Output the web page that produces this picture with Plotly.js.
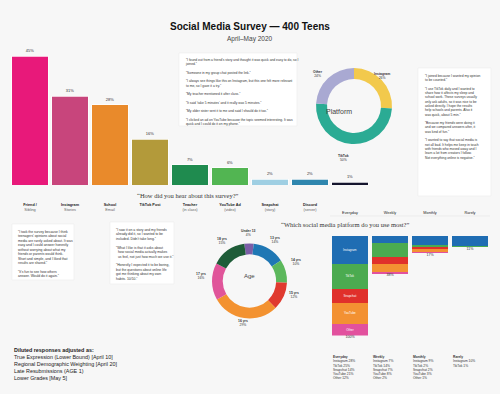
<!DOCTYPE html>
<html><head><meta charset="utf-8">
<script src="https://cdn.plot.ly/plotly-3.0.1.min.js"></script>
<style>html,body{margin:0;padding:0;background:#f7f7f7}#chart{width:500px;height:394px}</style>
</head><body><div id="chart"></div><script>
// ---------- DATA ----------
const sourceLine1 = ["Friend /", "Instagram", "School", "TikTok Post", "Teacher", "YouTube Ad", "Snapchat", "Discord", "Other"];
const sourceLine2 = ["Sibling", "Stories", "Email", "", "(in class)", "(video)", "(story)", "(server)", ""];
const sourcePct = [45, 31, 28, 16, 7, 6, 2, 2, 1];
const sourceColors = ["#e8197a", "#c8457c", "#e98a2b", "#b39a3a", "#1f8b4f", "#52b552", "#9fcfe3", "#2f86ae", "#15152e"];

const platformLabels = ["Instagram", "TikTok", "Other"];
const platformPct = [26, 50, 24];
const platformColors = ["#f2c94c", "#2bab94", "#a9a9d2"];

const ageLabels = ["Under 13", "13 yrs", "14 yrs", "15 yrs", "16 yrs", "17 yrs", "18 yrs"];
const agePct = [4, 14, 10, 12, 29, 16, 15];
const ageColors = ["#7b5ea7", "#1f77b4", "#5cb85c", "#e03a2f", "#f39230", "#e0559a", "#1e5c38"];

const freqCols = ["Everyday", "Weekly", "Monthly", "Rarely"];
const stackSeries = ["Instagram", "TikTok", "Snapchat", "YouTube", "Other"];
const stackInstagram = [28, 7, 9, 10];
const stackTikTok = [25, 14, 2, 1];
const stackSnapchat = [14, 7, 2, 0];
const stackYouTube = [21, 8, 3, 0];
const stackOther = [12, 2, 1, 0];
const stackColors = ["#1f6db3", "#4bab50", "#e0302b", "#f39132", "#e2519e"];

// ---------- LAYOUT HELPERS ----------
const W = 500, H = 394;
const px = v => v / W, py = v => 1 - v / H;
const sourceKeys = sourceLine1.map((a, i) => a + " " + sourceLine2[i]);
const stackValues = [stackInstagram, stackTikTok, stackSnapchat, stackYouTube, stackOther];
const stackTotals = freqCols.map((c, j) => stackValues.reduce((s, arr) => s + arr[j], 0));

const platformBox = {x0: 316, x1: 392, y0: 68, y1: 144};
const ageBox = {x0: 212, x1: 287, y0: 243.5, y1: 318.5};
const ageRotation = -8;

const traces = [];
traces.push({
  type: "bar", x: sourceKeys, y: sourcePct, xaxis: "x", yaxis: "y",
  marker: {color: sourceColors, line: {color: "rgba(255,255,255,0.9)", width: 0.8}},
  text: sourcePct.map(v => v + "%"), textposition: "outside", cliponaxis: false,
  textfont: {size: 4, color: "#333"}, hoverinfo: "skip", showlegend: false
});
stackSeries.forEach((name, i) => {
  traces.push({
    type: "bar", name: name, x: freqCols, y: stackValues[i], xaxis: "x2", yaxis: "y2",
    marker: {color: stackColors[i]},
    text: freqCols.map((c, j) => j === 0 ? name : ""), textposition: "inside",
    insidetextanchor: "middle", textfont: {size: 3, color: "#fff"}, showlegend: false
  });
});
traces.push({
  type: "scatter", mode: "text", x: freqCols, y: stackTotals, xaxis: "x2", yaxis: "y2",
  text: stackTotals.map(v => v + "%"), textposition: "bottom center",
  textfont: {size: 3.6, color: "#333"}, cliponaxis: false, showlegend: false
});
traces.push({
  type: "pie", labels: platformLabels, values: platformPct, hole: 0.71, sort: false,
  direction: "clockwise", rotation: 0, textinfo: "none",
  marker: {colors: platformColors, line: {width: 0}},
  domain: {x: [px(platformBox.x0), px(platformBox.x1)], y: [py(platformBox.y1), py(platformBox.y0)]},
  showlegend: false
});
traces.push({
  type: "pie", labels: ageLabels, values: agePct, hole: 0.71, sort: false,
  direction: "clockwise", rotation: ageRotation, textinfo: "none",
  marker: {colors: ageColors, line: {width: 0}},
  domain: {x: [px(ageBox.x0), px(ageBox.x1)], y: [py(ageBox.y1), py(ageBox.y0)]},
  showlegend: false
});

function pieLabels(labels, vals, box, rot, dist) {
  const cx = (box.x0 + box.x1) / 2, cy = (box.y0 + box.y1) / 2, r = (box.x1 - box.x0) / 2;
  const tot = vals.reduce((a, b) => a + b, 0);
  let a = rot, out = [];
  labels.forEach((l, i) => {
    const span = vals[i] / tot * 360, mid = (a + span / 2) * Math.PI / 180;
    a += span;
    out.push({xref: "paper", yref: "paper", x: px(cx + (r + dist) * Math.sin(mid)),
      y: py(cy - (r + dist) * Math.cos(mid)), text: "<b>" + l + "</b><br>" + vals[i] + "%",
      showarrow: false, font: {size: 3.4, color: "#333"}, align: "center"});
  });
  return out;
}

function txt(x, y, lines, size, extra) {
  return Object.assign({xref: "paper", yref: "paper", x: px(x), y: py(y), xanchor: "left", yanchor: "top",
    align: "left", showarrow: false, text: lines.join("<br>"), font: {size: size, color: "#333"}}, extra || {});
}

const quotes = [
  "“I found out from a friend's story and thought it was quick and easy to do, so I",
  "joined.”", "",
  "“Someone in my group chat posted the link.”", "",
  "“I always see things like this on Instagram, but this one felt more relevant",
  "to me, so I gave it a try.”", "",
  "“My teacher mentioned it after class.”", "",
  "“It said ‘take 5 minutes’ and it really was 5 minutes.”", "",
  "“My older sister sent it to me and said I should do it too.”", "",
  "“I clicked an ad on YouTube because the topic seemed interesting. It was",
  "quick and I could do it on my phone.”"
];
const rightText = [
  "“I joined because I wanted my opinion",
  "to be counted.”", "",
  "“I use TikTok daily and I wanted to",
  "share how it affects my sleep and",
  "school work. These surveys usually",
  "only ask adults, so it was nice to be",
  "asked directly. I hope the results",
  "help schools and parents. Also it",
  "was quick, about 5 min.”", "",
  "“Because my friends were doing it",
  "and we compared answers after, it",
  "was kind of fun.”", "",
  "“I wanted to say that social media is",
  "not all bad. It helps me keep in touch",
  "with friends who moved away and I",
  "learn a lot from creators I follow.",
  "Not everything online is negative.”"
];
const blockA = [
  "“I took the survey because I think",
  "teenagers' opinions about social",
  "media are rarely asked about. It was",
  "easy and I could answer honestly",
  "without worrying about what my",
  "friends or parents would think.",
  "Short and simple, and I liked that",
  "results are shared.”", "",
  "“It's fun to see how others",
  "answer. Would do it again.”"
];
const blockB = [
  "“I saw it on a story and my friends",
  "already did it, so I wanted to be",
  "included. Didn't take long.”", "",
  "“What I like is that it asks about",
  "  how social media actually makes",
  "  us feel, not just how much we use it.”", "",
  "“Honestly I expected it to be boring,",
  "but the questions about online life",
  "got me thinking about my own",
  "habits. 10/10.”"
];
const notes = [
  "<b>Diluted responses adjusted as:</b>",
  "True Expression (Lower Bound) [April 10]",
  "Regional Demographic Weighting [April 20]",
  "Late Resubmissions (AGE 1)",
  "Lower Grades [May 5]"
];

const annotations = [
  {xref: "paper", yref: "paper", x: 0.5, y: py(19), text: "<b>Social Media Survey — 400 Teens</b>",
   showarrow: false, font: {size: 10, color: "#111"}},
  {xref: "paper", yref: "paper", x: 0.5, y: py(33), text: "April–May 2020",
   showarrow: false, font: {size: 6.5, color: "#444"}},
  {xref: "paper", yref: "paper", x: px(188), y: py(196), text: "“How did you hear about this survey?”",
   showarrow: false, font: {size: 6.5, color: "#333", family: "Liberation Serif"}},
  {xref: "paper", yref: "paper", x: px(411), y: py(224), text: "“Which social media platform do you use most?”",
   showarrow: false, font: {size: 6.5, color: "#333", family: "Liberation Serif"}},
  {xref: "paper", yref: "paper", x: px(354), y: py(106), text: "Platform", showarrow: false,
   font: {size: 7, color: "#444"}},
  {xref: "paper", yref: "paper", x: px(249.5), y: py(281), text: "Age", showarrow: false,
   font: {size: 6, color: "#444"}},
  txt(183, 56, quotes, 3.3),
  txt(423, 72, rightText, 3.3),
  txt(16, 228, blockA, 3.4),
  txt(114, 226, blockB, 3.4),
  txt(12, 345, notes, 5.4, {font: {size: 5.4, color: "#222"}})
].concat(pieLabels(platformLabels, platformPct, platformBox, 0, 14))
 .concat(pieLabels(ageLabels, agePct, ageBox, ageRotation, 11));

// legend lists under stacked columns
freqCols.forEach((c, j) => {
  const lines = ["<b>" + c + "</b>"];
  stackSeries.forEach((s, i) => { if (stackValues[i][j] > 0) lines.push(s + " " + stackValues[i][j] + "%"); });
  annotations.push(txt(331 + j * 40, 353, lines, 3.3));
});

const card = (x0, y0, x1, y1) => ({type: "rect", xref: "paper", yref: "paper", x0: px(x0), x1: px(x1),
  y0: py(y1), y1: py(y0), fillcolor: "#ffffff", line: {color: "#ececec", width: 0.6}, layer: "below"});

const layout = {
  width: W, height: H, margin: {l: 0, r: 0, t: 0, b: 0},
  paper_bgcolor: "#f7f7f7", plot_bgcolor: "rgba(0,0,0,0)",
  font: {family: "Liberation Sans, Arial, sans-serif", color: "#333"},
  barmode: "stack", bargap: 0.08, showlegend: false,
  xaxis: {domain: [px(10), px(370)], type: "category", range: [-0.5, 8.5], anchor: "y",
    tickvals: sourceKeys.slice(0, 8),
    ticktext: sourceLine1.slice(0, 8).map((a, i) => "<b>" + a + "</b><br><span style='color:#666'>" + sourceLine2[i] + "</span>"),
    tickfont: {size: 3.8, color: "#222"}, ticks: "", showgrid: false, zeroline: false, showline: false,
    ticklabelstandoff: 16, fixedrange: true},
  yaxis: {domain: [py(185), py(52)], range: [0, 46.4], visible: false, anchor: "x", fixedrange: true},
  xaxis2: {domain: [px(330), px(490)], type: "category", anchor: "y2", side: "top",
    tickfont: {size: 3.8, color: "#222"}, ticks: "", showgrid: false, zeroline: false, showline: false,
    ticklabelstandoff: 20, fixedrange: true},
  yaxis2: {domain: [py(335.5), py(236)], range: [100, 0], visible: false, anchor: "x2", fixedrange: true},
  shapes: [
    card(179, 53, 297, 126),
    card(418, 68, 491, 196),
    card(12, 224, 74, 280),
    card(110, 222, 174, 284),
    {type: "line", xref: "paper", yref: "paper", x0: px(330), x1: px(490), y0: py(216), y1: py(216),
     line: {color: "#e6e6e6", width: 0.6}}
  ],
  annotations: annotations
};

Plotly.newPlot("chart", traces, layout, {staticPlot: true, displayModeBar: false});
</script></body></html>
